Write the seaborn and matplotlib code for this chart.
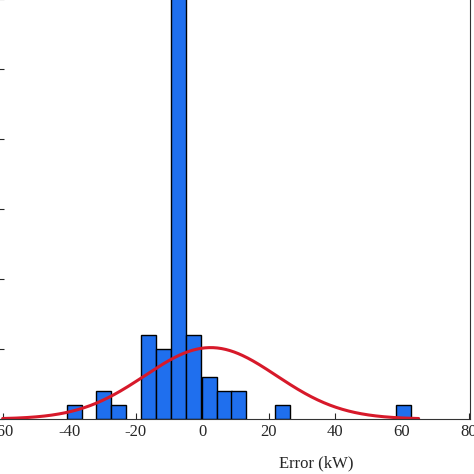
import numpy as np
import matplotlib
matplotlib.use("Agg")
import matplotlib.pyplot as plt
import seaborn as sns

sns.set_style("white")
plt.rcParams['font.family'] = ['Liberation Serif', 'DejaVu Serif']

bin_centers = [-31.0, -22.3, -17.7, -8.7, -4.1, 0.3, 4.9, 9.5, 14.1, 18.4, 31.5, 68.0]
counts = [1, 2, 1, 6, 5, 36, 6, 3, 2, 2, 1, 1]
bin_width = 4.5
fit_mean, fit_sd, fit_peak = 2.5, 19.8, 5.1
xticks = [-60, -40, -20, 0, 20, 40, 60, 80]

fig = plt.figure(figsize=(4.74, 4.74), dpi=100)
ax = fig.add_axes([-0.005, 55/474, 0.997, 490/474])
sns.barplot(x=bin_centers, y=counts, native_scale=True, width=bin_width,
            color="#1f6fee", edgecolor="black", linewidth=1.0, saturation=1, ax=ax)
for p in ax.patches:
    p.set_width(bin_width)
xs = np.linspace(-60, 65, 400)
ys = fit_peak * np.exp(-(xs - fit_mean) ** 2 / (2 * fit_sd ** 2))
sns.lineplot(x=xs, y=ys, color="#d7192a", linewidth=2.2, ax=ax)
ax.set_xlim(-61.5, 80.5)
ax.set_ylim(0, 35)
ax.set_xticks(xticks)
ax.set_xticklabels([str(t) for t in xticks], fontsize=12)
ax.set_yticks([0, 5, 10, 15, 20, 25, 30])
ax.set_yticklabels([])
ax.tick_params(direction="in", length=4, bottom=True, left=True)
ax.set_xlabel("Error (kW)", fontsize=12)
ax.xaxis.set_label_coords(0.675, -0.075)
ax.set_ylabel("")
for s in ax.spines.values():
    s.set_color("#333333")
fig.savefig("out.png", dpi=100)
